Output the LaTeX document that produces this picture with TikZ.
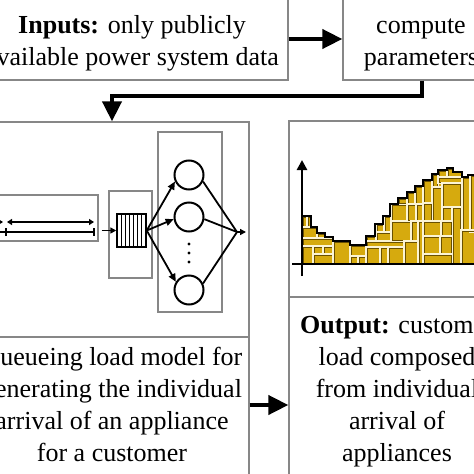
\documentclass[tikz,border=0pt]{standalone}
\usepackage{fontspec}
\setmainfont{Liberation Serif}
\usetikzlibrary{arrows.meta,fit}
\definecolor{boxgray}{RGB}{135,135,135}
\definecolor{gold}{RGB}{214,170,14}
\definecolor{golddark}{RGB}{105,80,0}
\definecolor{cream}{RGB}{252,244,212}
\begin{document}
\begin{tikzpicture}[x=1pt,y=-1pt,
  box/.style={draw=boxgray, line width=1.3pt, rectangle, inner sep=0pt},
  inbox/.style={draw=boxgray, line width=1.1pt, rectangle, inner sep=0pt},
  txt/.style={font=\fontsize{26}{32}\selectfont, align=center, inner sep=0pt, anchor=north},
  bigarrow/.style={line width=4pt, -{Triangle[length=20pt,width=19pt]}},
  medarrow/.style={line width=1.8pt, -{Triangle[length=8pt,width=7pt]}},
  medline/.style={line width=1.8pt},
  smallarrow/.style={line width=1.5pt, -{Triangle[length=6pt,width=6pt]}},
  tline/.style={line width=1.6pt},
  srv/.style={circle, draw, line width=2pt, minimum size=29pt, inner sep=0pt},
  axis/.style={line width=2.6pt}
]
\useasboundingbox (0,0) rectangle (474,474);
\clip (0,0) rectangle (474,474);

% ---------- main boxes ----------
\node[box, fit={(-24,-2)(288,80)}] (inputs) {};
\node[box, fit={(343,-2)(501,80)}] (compute) {};
\node[box, fit={(-25,122)(249,337)}] (qbox) {};
\node[box, fit={(-25,337)(249,490)}] (qtext) {};
\node[box, fit={(289,121)(507,297)}] (obox) {};
\node[box, fit={(289,297)(507,490)}] (otext) {};

% ---------- texts ----------
\node[txt] (inputsT) at (132,10.6) {\strut\textbf{Inputs:} only publicly\\available power system data};
\node[txt] (computeT) at (421,10.6) {\strut compute\\parameters};
\node[txt] (qtextT) at (112,342.6) {\strut Queueing load model for\\generating the individual\\arrival of an appliance\\for a customer};
\node[txt] (otextT) at (397,310.6) {\strut\textbf{Output:} customer\\load composed\\from individual\\arrival of\\appliances};

% ---------- main connectors ----------
\draw[bigarrow] (inputs.east) -- (compute.west);
\draw[bigarrow] (compute.south) -- ++(0,15) -| (qbox.north);
\coordinate (lowy) at (0,405);
\draw[bigarrow] (qtext.east |- lowy) -- (otext.west |- lowy);

% ---------- queueing model ----------
\node[inbox, fit={(-10,195)(98,241)}] (tlbox) {};
\node[inbox, fit={(109,191)(152,278)}] (qsbox) {};
\node[inbox, fit={(158,132)(222,312)}] (srvbox) {};

\coordinate (t0) at (-30,222);
\coordinate (t1) at (3,222);
\coordinate (t2) at (7,222);
\coordinate (t3) at (94,222);
\coordinate (u0) at (-30,232);
\coordinate (u1) at (5,232);
\coordinate (u2) at (95,232);
\draw[tline, -{Triangle[length=5pt,width=6pt]}] (t0) -- (t1);
\draw[tline, {Triangle[length=5pt,width=6pt]}-{Triangle[length=5pt,width=6pt]}] (t2) -- (t3);
\draw[tline] (u0) -- (u1);
\draw[tline, {Bar[width=8pt]}-{Bar[width=8pt]}] (u1) -- (u2);

\node[draw, line width=1.5pt, inner sep=0pt, fit={(117,214)(146,247)}] (buf) {};
\foreach \i in {1,...,6} \draw[line width=1pt] ({117+\i*29/7},214) -- ++(0,33);

\draw[smallarrow, shorten <=3pt] (tlbox.east |- buf.west) -- (buf.west);

\node[srv] (c1) at (189,175) {};
\node[srv] (c2) at (189,217) {};
\node[srv] (c3) at (189,290) {};
\foreach \yy in {244,253,262} \fill (189,\yy) circle (1.7pt);

\draw[medarrow] (buf.east) -- (c1.205);
\draw[medarrow] (buf.east) -- (c2.188);
\draw[medarrow] (buf.east) -- (c3.148);

\coordinate (mrg) at (237,232);
\coordinate (outp) at (246,232);
\draw[medline] (c1.-25) -- (mrg);
\draw[medline] (c2.-8) -- (mrg);
\draw[medline] (c3.25) -- (mrg);
\draw[smallarrow] (mrg) -- (outp);

% ---------- load chart ----------
\begin{scope}
\clip (302,264) -- (302,216) -- (311,216) -- (311,227) -- (317,227) -- (317,233) -- (325,233) -- (325,237) -- (333,237) -- (333,241) -- (350,241) -- (350,245) -- (366,245) -- (366,236) -- (375,236) -- (375,224) -- (383,224) -- (383,216) -- (390,216) -- (390,204) -- (398,204) -- (398,198) -- (407,198) -- (407,192) -- (415,192) -- (415,186) -- (423,186) -- (423,180) -- (432,180) -- (432,174) -- (438,174) -- (438,170) -- (447,170) -- (447,168) -- (453,168) -- (453,172) -- (462,172) -- (462,177) -- (468,177) -- (468,175) -- (482,175) -- (482,264) -- cycle;
\fill[gold] (300,160) rectangle (482,266);
\foreach \a/\b/\c/\d in {
 302/216/307/227, 307/216/311/227, 302/227/317/238, 317/233/333/238,
 302/238/333/246, 302/246/313/264, 313/246/323/254, 323/246/333/254,
 313/254/333/264, 333/241/350/264, 350/245/366/256, 350/256/358/264,
 358/256/366/264, 366/236/376/241, 376/224/384/232, 384/216/391/232,
 376/232/391/241, 366/241/404/247, 366/247/380/264, 380/247/388/264,
 388/247/404/264, 391/204/407/221, 391/221/411/241, 398/198/407/204,
 407/192/415/204, 415/186/423/204, 407/204/416/221, 416/204/423/221,
 411/221/418/241, 404/241/418/264, 418/221/423/264, 423/180/432/203,
 432/174/438/187, 438/170/447/177, 447/168/462/177, 438/177/462/183,
 432/187/442/221, 423/203/432/221, 442/183/461/207, 462/177/470/230,
 470/175/482/232, 442/207/452/221, 452/207/461/264, 423/221/441/236,
 441/221/452/236, 423/236/440/254, 440/236/452/254, 423/254/452/264,
 461/230/482/264}
{
 \draw[cream, line width=1.4pt] (\a,\b) rectangle (\c,\d);
 \draw[golddark, line width=0.45pt] (\a+1,\b+1) rectangle (\c-1,\d-1);
}
\end{scope}
\draw[line width=2pt, line join=miter] (302,264) -- (302,216) -- (311,216) -- (311,227) -- (317,227) -- (317,233) -- (325,233) -- (325,237) -- (333,237) -- (333,241) -- (350,241) -- (350,245) -- (366,245) -- (366,236) -- (375,236) -- (375,224) -- (383,224) -- (383,216) -- (390,216) -- (390,204) -- (398,204) -- (398,198) -- (407,198) -- (407,192) -- (415,192) -- (415,186) -- (423,186) -- (423,180) -- (432,180) -- (432,174) -- (438,174) -- (438,170) -- (447,170) -- (447,168) -- (453,168) -- (453,172) -- (462,172) -- (462,177) -- (468,177) -- (468,175) -- (482,175);

\coordinate (xa0) at (292,264);
\coordinate (xa1) at (482,264);
\coordinate (ya0) at (302,276);
\coordinate (ya1) at (302,160);
\draw[axis] (xa0) -- (xa1);
\draw[axis, -{Triangle[length=10pt,width=10pt]}] (ya0) -- (ya1);
\end{tikzpicture}
\end{document}
